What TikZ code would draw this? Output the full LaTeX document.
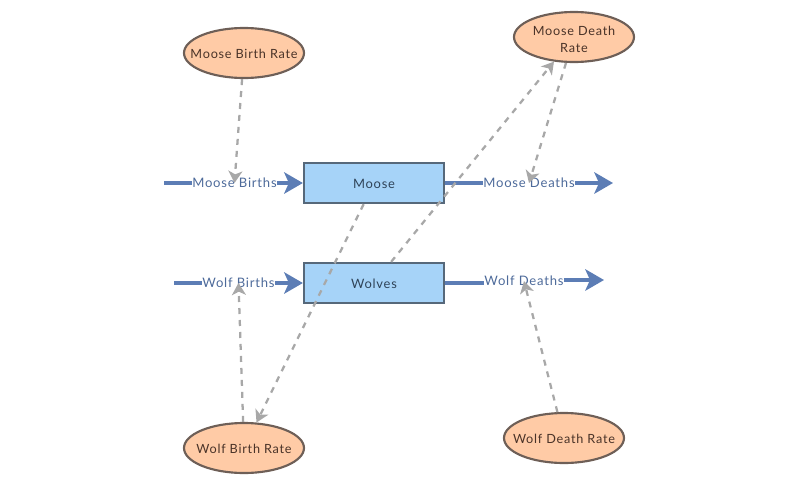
\documentclass[tikz,border=0pt]{standalone}
\usepackage{fontspec}
\setmainfont{Lato}[LetterSpace=6]
\usetikzlibrary{arrows.meta,shapes.geometric}
\definecolor{flowc}{HTML}{5C7DB5}
\definecolor{dashc}{HTML}{A8A8A8}
\definecolor{boxf}{HTML}{A6D3F8}
\definecolor{boxd}{HTML}{56687A}
\definecolor{ellf}{HTML}{FFCBA6}
\definecolor{elld}{HTML}{6E5F57}
\definecolor{flowt}{HTML}{4D6A9A}
\definecolor{boxt}{HTML}{2F4358}
\definecolor{ellt}{HTML}{4A3328}
\newcommand{\ratetext}[1]{\makebox[0pt][c]{#1}}
\newcommand{\ratetwo}[2]{\raisebox{-11.25pt}[0pt][0pt]{\makebox[0pt][c]{\shortstack[c]{#1\\[2.6pt]#2}}}}
\tikzset{
  x=0.75pt,y=-0.75pt,
  stock/.style={rectangle,draw=boxd,fill=boxf,line width=1.7pt,minimum width=105pt,minimum height=30pt,inner sep=0pt,text=boxt,text height=8.6pt,text depth=0pt,font=\fontsize{9.7}{11}\selectfont},
  rate/.style={ellipse,draw=elld,fill=ellf,line width=1.6pt,minimum width=90pt,minimum height=37.5pt,inner sep=0pt,text=ellt,font=\fontsize{9.5}{12}\selectfont},
  flowlabel/.style={inner sep=0pt,outer sep=0pt,text=flowt,font=\fontsize{9.8}{11}\selectfont},
  flowline/.style={draw=flowc,line width=3pt},
  flowarrow/.style={draw=flowc,line width=3pt,-{Stealth[length=14pt,width=16pt,inset=3.5pt]}},
  link/.style={draw=dashc,line width=1.7pt,dash pattern=on 4.5pt off 4.5pt,-{Stealth[length=9pt,width=10.5pt,inset=2.5pt]}},
}
\begin{document}
\begin{tikzpicture}
\useasboundingbox (0,0) rectangle (800,486);
\node[stock] (moose) at (374,183) {Moose};
\node[stock] (wolves) at (374,283) {Wolves};
\node[rate,text height=8.6pt,text depth=0pt] (mbr) at (244,53) {\ratetext{Moose Birth Rate}};
\node[rate] (mdr) at (574,37) {\ratetwo{Moose Death}{Rate}};
\node[rate,text height=8.6pt,text depth=0pt] (wbr) at (244,448) {\ratetext{Wolf Birth Rate}};
\node[rate,text height=8.6pt,text depth=0pt] (wdr) at (564,438) {\ratetext{Wolf Death Rate}};
\node[flowlabel] (mb) at (234.5,183) {Moose Births};
\node[flowlabel] (md) at (529,183) {Moose Deaths};
\node[flowlabel] (wb) at (238.5,283) {Wolf Births};
\node[flowlabel] (wd) at (524,281) {Wolf Deaths};
\coordinate (mbs) at (164,183);
\coordinate (wbs) at (174,283);
\coordinate (mde) at (613,183);
\coordinate (wde) at (604,280);
\draw[flowline] (mbs) -- (mb);
\draw[flowarrow] (mb) -- (moose);
\draw[flowline] (moose) -- (md);
\draw[flowarrow] (md) -- (mde);
\draw[flowline] (wbs) -- (wb);
\draw[flowarrow] (wb) -- (wolves);
\draw[flowline] (wolves.east) -- (wolves.east -| wd.west);
\draw[flowarrow] (wd.east |- wde) -- (wde);
\draw[link] (mbr) -- (mb.center);
\draw[link] (mdr) -- (md.center);
\draw[link] (wbr) -- (wb.center);
\draw[link] (wdr) -- (wd.center);
\draw[link] (moose) -- (wbr);
\draw[link] (wolves) -- (mdr);
\end{tikzpicture}
\end{document}
